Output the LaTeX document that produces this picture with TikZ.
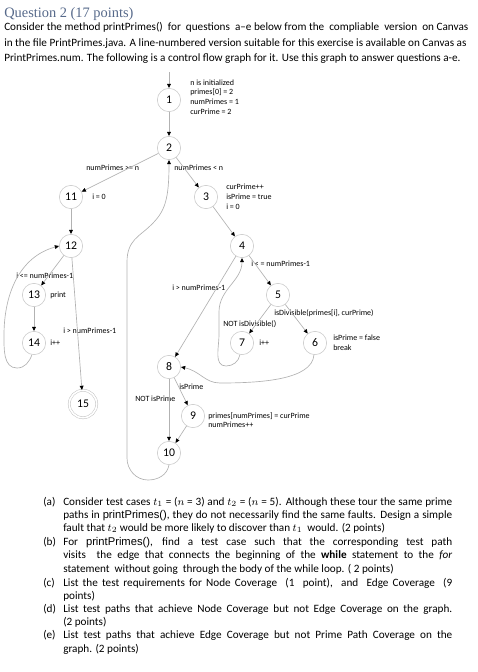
\documentclass[tikz,border=0pt]{standalone}
\usepackage{fontspec}
\setmainfont{Carlito}
\newfontfamily\headfont{Liberation Serif}
\newfontfamily\codefont{Liberation Sans}
\usepackage{tikz}
\usetikzlibrary{arrows.meta,positioning}
\definecolor{headblue}{HTML}{56698A}
\newcommand{\jline}[1]{\makebox[291.75pt][s]{#1}}

\begin{document}
\begin{tikzpicture}[x=0.75pt,y=-0.75pt,
  state/.style={circle,draw=gray!45,fill=white,minimum size=17.5pt,inner sep=0pt,
    font=\fontsize{8.8}{10}\selectfont},
  final/.style={state,minimum size=20.6pt,double,double distance=1.2pt},
  lbl/.style={anchor=west,inner sep=0pt,align=left,font=\fontsize{6}{7.3}\selectfont},
  txt/.style={anchor=base west,inner sep=0pt,font=\fontsize{8.4}{10}\selectfont},
  headtxt/.style={anchor=base west,inner sep=0pt,text=headblue,
    font=\headfont\fontsize{10.8}{12}\selectfont},
  arrow/.style={draw=gray!60,line width=0.5pt,
    -{Triangle[length=3.2pt,width=2.8pt,color=black]}}
]
\useasboundingbox (0,0) rectangle (478,672);

% heading and intro
\node[headtxt] (title) at (4,17) {Question 2 (17 points)};
\node[txt] (p1) at (4,30) {Consider the method\ printPrimes()\ \ for\ \ questions\ \ a--e below from the\ \ compliable\ \ version\ \ on Canvas};
\node[txt] (p2) at (4,46) {in the file PrintPrimes.java. A line-numbered version suitable for this exercise is available on Canvas as};
\node[txt] (p3) at (4,61) {PrintPrimes.num. The following is a control flow graph for it. Use this graph to answer questions a-e.};

% graph nodes
\node[state] (n1) at (169,100) {1};
\node[state] (n2) at (169,148) {2};
\node[state] (n3) at (206,197) {3};
\node[state] (n4) at (242,246) {4};
\node[state] (n5) at (278,295) {5};
\node[state] (n6) at (315,343) {6};
\node[state] (n7) at (242,343) {7};
\node[state] (n8) at (169,367) {8};
\node[state] (n9) at (193,416) {9};
\node[state] (n10) at (169,453) {10};
\node[state] (n11) at (71,197) {11};
\node[state] (n12) at (71,246) {12};
\node[state] (n13) at (34,295) {13};
\node[state] (n14) at (34,343) {14};
\node[final] (n15) at (83,404) {15};

% statements at nodes
\node[lbl] (s1) at (190,97) {n is initialized\\primes[0] = 2\\numPrimes = 1\\curPrime = 2};
\node[lbl] (s3) at (226,197) {curPrime++\\isPrime = true\\i = 0};
\node[lbl] (s11) at (92,197) {i = 0};
\node[lbl] (s13) at (50,295) {print};
\node[lbl] (s14) at (50,343) {i++};
\node[lbl] (s7) at (259,343) {i++};
\node[lbl] (s6) at (333,343) {isPrime = false\\break};
\node[lbl] (s9) at (208,420) {primes[numPrimes] = curPrime\\numPrimes++};

% edge conditions
\node[lbl] (c2a) at (86,168) {numPrimes >= n};
\node[lbl] (c2b) at (174,168) {numPrimes < n};
\node[lbl] (c4a) at (251,264) {i < = numPrimes-1};
\node[lbl] (c4b) at (172,288) {i > numPrimes-1};
\node[lbl] (c5a) at (274,313) {isDivisible(primes[i], curPrime)};
\node[lbl] (c5b) at (223,324) {NOT isDivisible()};
\node[lbl] (c8a) at (179,387) {isPrime};
\node[lbl] (c8b) at (135,399) {NOT isPrime};
\node[lbl] (c12a) at (16,276) {i <= numPrimes-1};
\node[lbl] (c12b) at (63,331) {i > numPrimes-1};

% edges
\coordinate (start) at (169,72);
\draw[arrow] (start)--(n1);
\draw[arrow] (n1)--(n2);
\draw[arrow] (n2)--(n11);
\draw[arrow] (n2)--(n3);
\draw[arrow] (n3)--(n4);
\draw[arrow] (n4)--(n5);
\draw[arrow] (n4)--(n8);
\draw[arrow] (n5)--(n7);
\draw[arrow] (n5)--(n6);
\draw[arrow] (n8)--(n9);
\draw[arrow] (n8)--(n10);
\draw[arrow] (n9)--(n10);
\draw[arrow] (n11)--(n12);
\draw[arrow] (n12)--(n13);
\draw[arrow] (n13)--(n14);
\draw[arrow] (n12)--(n15);
\draw[arrow] (n7.-100) to[out=-100,in=0] (226,366) to[out=180,in=-90] (219,335)
  -- (219,312) to[out=90,in=-90] (n4.south);
\draw[arrow] (n6.-95) .. controls (312,380) and (260,383) .. (220,383)
  .. controls (205,383) and (200,371) .. (n8.east);
\draw[arrow] (n10.-90) to[out=-100,in=0] (148,480) to[out=180,in=-90] (127,458)
  -- (127,262) .. controls (127,240) and (140,236) .. (150,226)
  .. controls (165,212) and (169,200) .. (n2.south);
\draw[arrow] (n14.-100) to[out=-110,in=0] (17,368) to[out=180,in=-90] (4,335)
  to[out=90,in=195] (n12.west);

% questions
\node[txt] (qa) at (43,505) {(a)};
\node[txt] (qa1) at (63,505) {\jline{Consider test cases $t_1$ = ($n$ = 3) and $t_2$ = ($n$ = 5). Although these tour the same prime}};
\node[txt] (qa2) at (63,518) {\jline{paths in {\codefont printPrimes()}, they do not necessarily find the same faults. Design a simple}};
\node[txt] (qa3) at (63,531) {fault that $t_2$ would be more likely to discover than $t_1$\ \ would. (2 points)};
\node[txt] (qb) at (43,545) {(b)};
\node[txt] (qb1) at (63,545) {\jline{For {\codefont printPrimes()}, find a test case such that the corresponding test path}};
\node[txt] (qb2) at (63,558) {\jline{visits\ \ the edge that connects the beginning of the \textbf{while} statement to the \textit{for}}};
\node[txt] (qb3) at (63,572) {statement\ \ without going\ \ through the body of the while loop. ( 2 points)};
\node[txt] (qc) at (43,586) {(c)};
\node[txt] (qc1) at (63,586) {\jline{List the test requirements for Node Coverage\ \ (1\ \ point),\ \ and\ \ Edge Coverage\ \ (9}};
\node[txt] (qc2) at (63,599) {points)};
\node[txt] (qd) at (43,612) {(d)};
\node[txt] (qd1) at (63,612) {\jline{List test paths that achieve Node Coverage but not Edge Coverage on the graph.}};
\node[txt] (qd2) at (63,625) {(2 points)};
\node[txt] (qe) at (43,638) {(e)};
\node[txt] (qe1) at (63,638) {\jline{List test paths that achieve Edge Coverage but not Prime Path Coverage on the}};
\node[txt] (qe2) at (63,652) {graph. (2 points)};
\end{tikzpicture}
\end{document}
